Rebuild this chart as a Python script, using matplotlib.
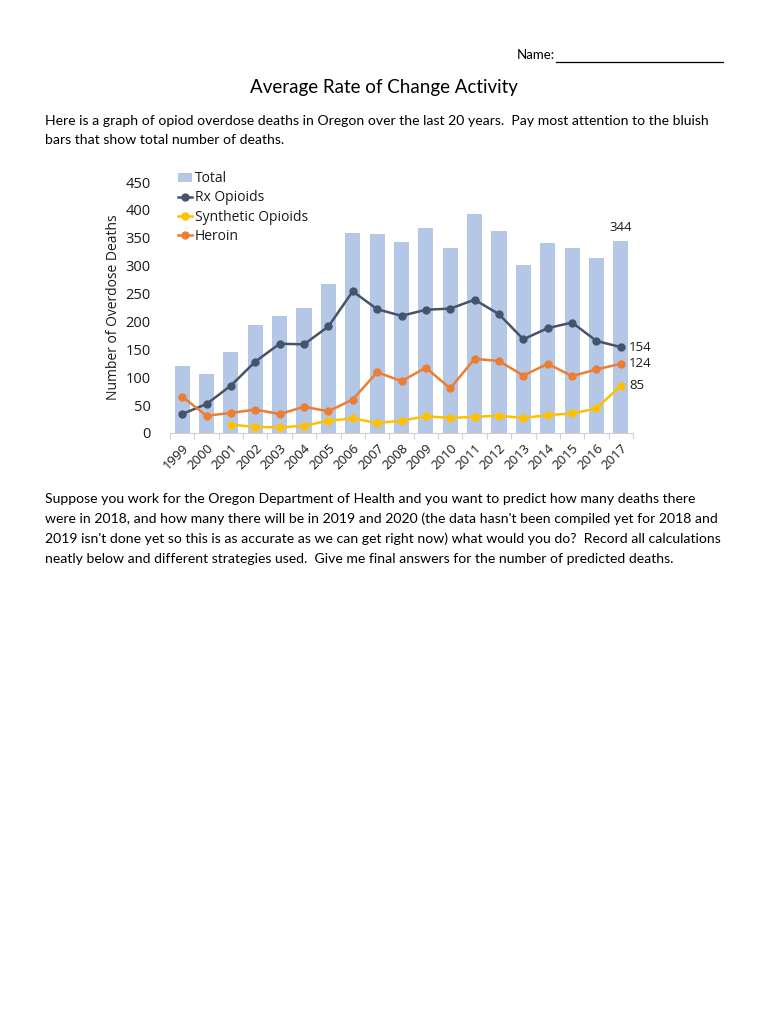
import matplotlib
import numpy as np
from matplotlib import pyplot as plt

matplotlib.use('Agg')

years = ['1999', '2000', '2001', '2002', '2003', '2004', '2005', '2006', '2007', '2008',
         '2009', '2010', '2011', '2012', '2013', '2014', '2015', '2016', '2017']
total = [120, 105, 146, 193, 209, 225, 268, 359, 357, 343,
         368, 332, 393, 362, 302, 341, 332, 314, 344]
rx_opioids = [34, 52, 85, 128, 160, 159, 191, 254, 222, 210,
              221, 223, 239, 213, 168, 188, 198, 165, 154]
# synthetic opioids start in 2001
synthetic_years = years[2:]
synthetic = [15, 11, 10, 13, 22, 26, 18, 22, 30, 27, 29, 31, 27, 32, 35, 44, 85]
heroin = [65, 31, 36, 42, 34, 47, 39, 60, 109, 93,
          117, 80, 133, 129, 103, 124, 102, 114, 124]
yticks = [0, 50, 100, 150, 200, 250, 300, 350, 400, 450]

c_bar = '#b4c7e7'
c_rx = '#44546a'
c_syn = '#ffc000'
c_her = '#ed7d31'
c_txt = '#1a1a1a'
doc_font = 'Lato'
chart_font = 'Open Sans'

fig = plt.figure(figsize=(7.68, 10.24), dpi=100)

# document text
fig.text(517 / 768, 1 - 55 / 1024, 'Name:', fontsize=9.5, family=doc_font, va='center', ha='left')
fig.add_artist(plt.Line2D([556 / 768, 723 / 768], [1 - 62 / 1024, 1 - 62 / 1024], color='black', lw=0.9))
fig.text(0.5, 1 - 88 / 1024, 'Average Rate of Change Activity', fontsize=13.5, family=doc_font,
         ha='center', va='center')
para1 = ['Here is a graph of opiod overdose deaths in Oregon over the last 20 years.  Pay most attention to the bluish',
         'bars that show total number of deaths.']
for k, line in enumerate(para1):
    fig.text(45 / 768, 1 - (121 + 19.5 * k) / 1024, line, fontsize=10.1, family=doc_font, va='center')
para2 = ['Suppose you work for the Oregon Department of Health and you want to predict how many deaths there',
         "were in 2018, and how many there will be in 2019 and 2020 (the data hasn't been compiled yet for 2018 and",
         "2019 isn't done yet so this is as accurate as we can get right now) what would you do?  Record all calculations",
         'neatly below and different strategies used.  Give me final answers for the number of predicted deaths.']
for k, line in enumerate(para2):
    fig.text(45 / 768, 1 - (499 + 20 * k) / 1024, line, fontsize=10.1, family=doc_font, va='center')

# chart
ax = fig.add_axes([170 / 768, 1 - 433 / 1024, 463 / 768, 251 / 1024])
x = np.arange(len(years))
xs = np.arange(2, len(years))
h_tot = ax.bar(x, total, width=0.62, color=c_bar, label='Total', zorder=1)
h_rx, = ax.plot(x, rx_opioids, '-o', color=c_rx, lw=1.8, ms=5, label='Rx Opioids', zorder=3)
h_syn, = ax.plot(xs, synthetic, '-o', color=c_syn, lw=1.8, ms=5, label='Synthetic Opioids', zorder=3)
h_her, = ax.plot(x, heroin, '-o', color=c_her, lw=1.8, ms=5, label='Heroin', zorder=3)

ax.set_xlim(-0.5, len(years) - 0.5)
ax.set_ylim(0, 450)
ax.set_yticks(yticks)
ax.set_yticklabels([str(v) for v in yticks], family=chart_font, fontsize=10.5, color=c_txt)
ax.set_xticks(x)
ax.set_xticklabels(years, rotation=45, ha='right', va='top', rotation_mode='anchor',
                   family=chart_font, fontsize=9.5, color=c_txt)
ax.set_xticks(np.arange(-0.5, len(years), 1), minor=True)
ax.tick_params(axis='x', which='major', length=0, pad=6)
ax.tick_params(axis='x', which='minor', length=4, color='#d0d0d0', width=0.8)
ax.tick_params(axis='y', length=0, pad=14)
for s in ['top', 'right', 'left']:
    ax.spines[s].set_visible(False)
ax.spines['bottom'].set_color('#d0d0d0')
ax.set_ylabel('Number of Overdose Deaths', family=chart_font, fontsize=10, color=c_txt, labelpad=3)

ax.annotate(str(total[-1]), (x[-1], total[-1]), xytext=(0, 5), textcoords='offset points',
            ha='center', va='bottom', family=chart_font, fontsize=9.5, color=c_txt)
for series, xv in [(rx_opioids, x), (heroin, x), (synthetic, xs)]:
    ax.annotate(str(series[-1]), (xv[-1], series[-1]), xytext=(6, 0), textcoords='offset points',
                ha='left', va='center', family=chart_font, fontsize=9.5, color=c_txt,
                annotation_clip=False)

leg = ax.legend([h_tot, h_rx, h_syn, h_her], ['Total', 'Rx Opioids', 'Synthetic Opioids', 'Heroin'],
                loc='upper left', bbox_to_anchor=(0.005, 1.065), frameon=False, handlelength=1.0,
                handletextpad=0.2, labelspacing=0.3, borderaxespad=0,
                prop={'family': chart_font, 'size': 10})
for t in leg.get_texts():
    t.set_color(c_txt)

plt.savefig('out.png', dpi=100)
plt.close()
